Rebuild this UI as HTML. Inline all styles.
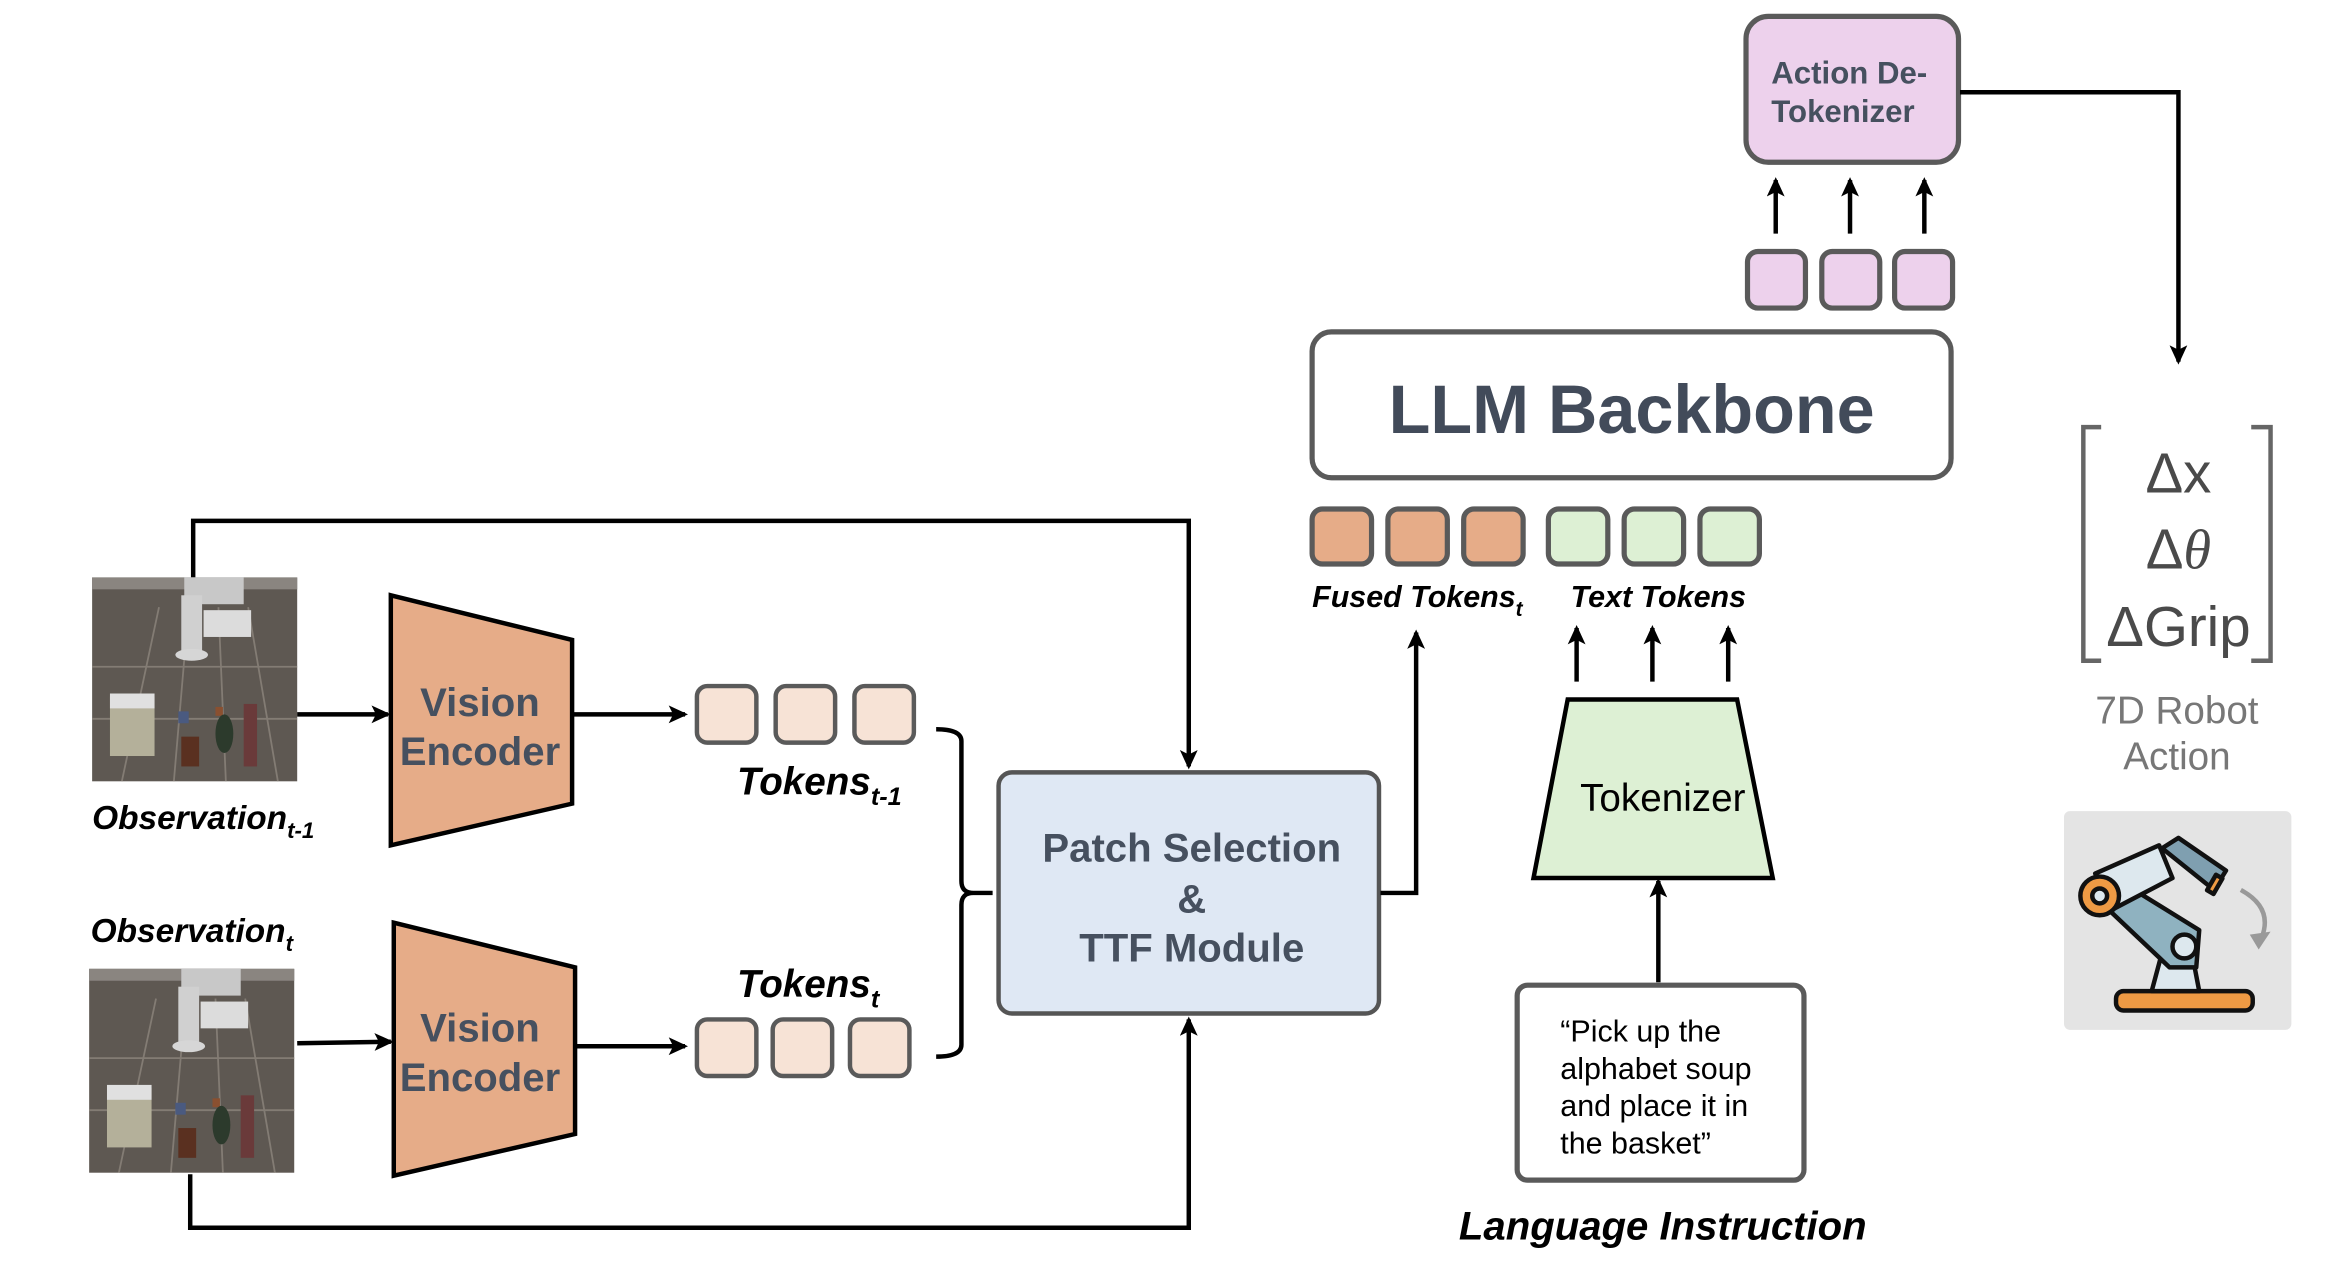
<!DOCTYPE html>
<html><head><meta charset="utf-8"><style>
html,body{margin:0;padding:0;background:#fff;width:2330px;height:1262px;overflow:hidden}
svg{display:block}
text{font-family:"Liberation Sans",Arial,sans-serif}
</style></head><body>
<svg width="2330" height="1262" viewBox="0 0 1568 848" preserveAspectRatio="none" xmlns="http://www.w3.org/2000/svg">
<defs>
<marker id="ah" markerWidth="14" markerHeight="14" refX="11" refY="6" orient="auto" markerUnits="userSpaceOnUse">
<path d="M0,0 L13,6 L0,12 L3,6 Z" fill="#000"/></marker>
<g id="photo">
<rect x="0" y="0" width="138" height="137" fill="#5e5852"/>
<rect x="0" y="0" width="138" height="8" fill="#8a8580"/>
<g stroke="#8d857d" stroke-width="1.2" opacity="0.8">
<line x1="20" y1="137" x2="45" y2="20"/><line x1="55" y1="137" x2="65" y2="20"/><line x1="90" y1="137" x2="85" y2="20"/><line x1="125" y1="137" x2="105" y2="20"/>
<line x1="0" y1="60" x2="138" y2="60"/><line x1="0" y1="95" x2="138" y2="95"/>
</g>
<rect x="62" y="0" width="40" height="18" fill="#c8c8c8"/>
<rect x="60" y="12" width="14" height="40" fill="#d0d0d0"/>
<rect x="75" y="22" width="32" height="18" fill="#dcdcdc"/>
<ellipse cx="67" cy="52" rx="11" ry="4" fill="#d6d6d6"/>
<rect x="12" y="80" width="30" height="40" fill="#b4b09a"/>
<rect x="12" y="78" width="30" height="10" fill="#e0e0e0"/>
<rect x="58" y="90" width="7" height="8" fill="#4a5a80"/>
<rect x="83" y="87" width="5" height="6" fill="#8a5030"/>
<ellipse cx="89" cy="105" rx="6" ry="13" fill="#2c3a2c"/>
<rect x="102" y="85" width="9" height="42" fill="#6a3a3a"/>
<rect x="60" y="107" width="12" height="20" fill="#5a3020"/>
</g>
</defs>

<polyline points="130,388 130,350 800,350 800,515" fill="none" stroke="#000" stroke-width="3" marker-end="url(#ah)"/>
<polyline points="128,789 128,825 800,825 800,685" fill="none" stroke="#000" stroke-width="3" marker-end="url(#ah)"/>

<use href="#photo" x="62" y="388"/>
<use href="#photo" x="60" y="651"/>

<text x="62" y="557" font-size="22.5" font-weight="bold" font-style="italic">Observation<tspan font-size="15" dy="6">t-1</tspan></text>
<text x="61" y="633" font-size="22.5" font-weight="bold" font-style="italic">Observation<tspan font-size="15" dy="6">t</tspan></text>

<line x1="200" y1="480" x2="261" y2="480" stroke="#000" stroke-width="3" marker-end="url(#ah)"/>
<line x1="200" y1="701" x2="263" y2="700" stroke="#000" stroke-width="3" marker-end="url(#ah)"/>

<polygon points="263,400 385,430 385,540 263,568" fill="#E6AC88" stroke="#000" stroke-width="3"/>
<polygon points="265,620 387,650 387,762 265,790" fill="#E6AC88" stroke="#000" stroke-width="3"/>
<g fill="#46505f" font-size="27" font-weight="bold" text-anchor="middle">
<text x="323" y="481">Vision</text><text x="323" y="514">Encoder</text>
<text x="323" y="700">Vision</text><text x="323" y="733">Encoder</text>
</g>

<line x1="386" y1="480" x2="461" y2="480" stroke="#000" stroke-width="3" marker-end="url(#ah)"/>
<line x1="388" y1="703" x2="461" y2="703" stroke="#000" stroke-width="3" marker-end="url(#ah)"/>

<g fill="#F7E3D6" stroke="#5a5a5a" stroke-width="3">
<rect x="469" y="461" width="40" height="38" rx="7"/><rect x="522" y="461" width="40" height="38" rx="7"/><rect x="575" y="461" width="40" height="38" rx="7"/>
<rect x="469" y="685" width="40" height="38" rx="7"/><rect x="520" y="685" width="40" height="38" rx="7"/><rect x="572" y="685" width="40" height="38" rx="7"/>
</g>
<text x="496" y="534" font-size="26" font-weight="bold" font-style="italic">Tokens<tspan font-size="17" dy="7">t-1</tspan></text>
<text x="496" y="670" font-size="26" font-weight="bold" font-style="italic">Tokens<tspan font-size="17" dy="7">t</tspan></text>

<path d="M630,490 Q647,490 647,498 L647,592 Q647,600 655,600 L668,600 M655,600 Q647,600 647,608 L647,702 Q647,710 630,710" fill="none" stroke="#000" stroke-width="3"/>

<rect x="672" y="519" width="256" height="162" rx="9" fill="#DFE8F4" stroke="#555" stroke-width="3"/>
<g fill="#46505f" font-size="27" font-weight="bold" text-anchor="middle">
<text x="802" y="579">Patch Selection</text><text x="802" y="613">&amp;</text><text x="802" y="646">TTF Module</text>
</g>

<polyline points="929,600 953,600 953,425" fill="none" stroke="#000" stroke-width="3" marker-end="url(#ah)"/>

<rect x="883" y="223" width="430" height="98" rx="13" fill="#fff" stroke="#5a5a5a" stroke-width="3.5"/>
<text x="1098" y="291" font-size="46" font-weight="bold" fill="#424b5a" text-anchor="middle">LLM Backbone</text>

<g stroke="#5a5a5a" stroke-width="3.5">
<rect x="883" y="342" width="40" height="37" rx="7" fill="#E6AC88"/><rect x="934" y="342" width="40" height="37" rx="7" fill="#E6AC88"/><rect x="985" y="342" width="40" height="37" rx="7" fill="#E6AC88"/>
<rect x="1042" y="342" width="40" height="37" rx="7" fill="#DDF0D4"/><rect x="1093" y="342" width="40" height="37" rx="7" fill="#DDF0D4"/><rect x="1144" y="342" width="40" height="37" rx="7" fill="#DDF0D4"/>
</g>
<text x="883" y="408" font-size="20.5" font-weight="bold" font-style="italic">Fused Tokens<tspan font-size="14" dy="6">t</tspan></text>
<text x="1057" y="408" font-size="20.5" font-weight="bold" font-style="italic">Text Tokens</text>

<g stroke="#000" stroke-width="3" marker-end="url(#ah)">
<line x1="1061" y1="458" x2="1061" y2="422"/><line x1="1112" y1="458" x2="1112" y2="422"/><line x1="1163" y1="458" x2="1163" y2="422"/>
<line x1="1195" y1="157" x2="1195" y2="121"/><line x1="1245" y1="157" x2="1245" y2="121"/><line x1="1295" y1="157" x2="1295" y2="121"/>
</g>

<polygon points="1055,470 1169,470 1193,590 1032,590" fill="#DDF0D4" stroke="#000" stroke-width="3"/>
<text x="1119" y="545" font-size="26" text-anchor="middle">Tokenizer</text>

<line x1="1116" y1="660" x2="1116" y2="592" stroke="#000" stroke-width="3" marker-end="url(#ah)"/>

<rect x="1021" y="662" width="193" height="131" rx="7" fill="#fff" stroke="#5a5a5a" stroke-width="3.5"/>
<g font-size="20.5" fill="#000">
<text x="1050" y="700">“Pick up the</text><text x="1050" y="725">alphabet soup</text><text x="1050" y="750">and place it in</text><text x="1050" y="775">the basket”</text>
</g>
<text x="1119" y="833" font-size="27" font-weight="bold" font-style="italic" text-anchor="middle">Language Instruction</text>

<g fill="#EDD1EC" stroke="#5a5a5a" stroke-width="3.5">
<rect x="1176" y="169" width="39" height="38" rx="7"/><rect x="1226" y="169" width="39" height="38" rx="7"/><rect x="1275" y="169" width="39" height="38" rx="7"/>
</g>
<rect x="1175" y="11" width="143" height="98" rx="15" fill="#EDD1EC" stroke="#5a5a5a" stroke-width="3.5"/>
<g fill="#46505f" font-size="21" font-weight="bold"><text x="1192" y="56">Action De-</text><text x="1192" y="82">Tokenizer</text></g>

<polyline points="1319,62 1466,62 1466,243" fill="none" stroke="#000" stroke-width="3" marker-end="url(#ah)"/>

<g fill="none" stroke="#666" stroke-width="3">
<polyline points="1414,287 1402,287 1402,444 1414,444"/><polyline points="1515,287 1528,287 1528,444 1515,444"/>
</g>
<g fill="#4a4a4a" font-size="38" text-anchor="middle">
<text x="1466" y="331">Δx</text><text x="1466" y="382">Δ<tspan font-style="italic" font-family="Liberation Serif">θ</tspan></text><text x="1466" y="434">ΔGrip</text>
</g>
<g fill="#777" font-size="26" text-anchor="middle"><text x="1465" y="486">7D Robot</text><text x="1465" y="517">Action</text></g>

<rect x="1389" y="545" width="153" height="147" rx="4" fill="#e4e4e4"/>
<g stroke="#111" stroke-width="3" stroke-linejoin="round">
<rect x="1424" y="666" width="92" height="13" rx="5" fill="#EE9A44"/>
<polygon points="1448,666 1455,640 1475,640 1480,666" fill="#dde8ee"/>
<polygon points="1405,598 1420,588 1480,625 1478,650 1460,650" fill="#8fb2c0"/>
<polygon points="1410,587 1453,568 1462,590 1420,612" fill="#dde8ee"/>
<polygon points="1455,570 1466,563 1498,585 1490,598" fill="#7f9fb0"/>
<circle cx="1413" cy="602" r="13" fill="#EE9A44"/><circle cx="1413" cy="602" r="5" fill="#dde8ee"/>
<circle cx="1470" cy="636" r="8" fill="#dde8ee"/>
<rect x="1488" y="588" width="5" height="12" fill="#EE9A44" transform="rotate(30 1490 594)"/>
</g>
<path d="M1508,598 Q1530,610 1522,630" fill="none" stroke="#999" stroke-width="3"/>
<polygon points="1514,628 1528,626 1520,638" fill="#999"/>
</svg>
</body></html>
